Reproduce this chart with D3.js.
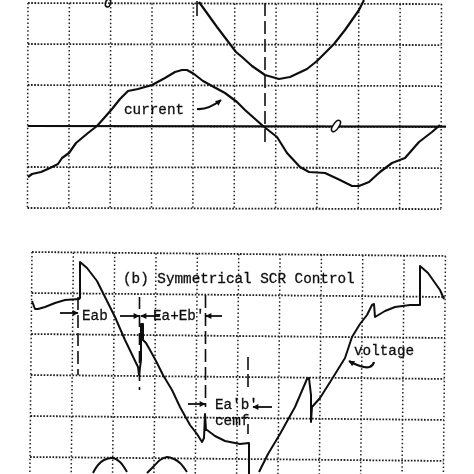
<!DOCTYPE html>
<html><head><meta charset="utf-8">
<script src="https://cdn.jsdelivr.net/npm/d3@7"></script>
<style>html,body{margin:0;padding:0;background:#fff}svg{display:block}
text{font-family:"Liberation Mono",monospace;font-size:14.3px;fill:#111;stroke:#111;stroke-width:.3}</style>
</head><body><svg id="c" width="474" height="474"></svg>
<script>
// Values in scope units: 41.4 x-units and 41 y-units per grid division
const currentX=[0,4,13,22,30,34,41,48,60,69,77,84,92,100,110,124,137,147,154,159,166,175,184,197,209,217,235,249,259,272,281,297,312,324,331,341,352,364,377,391,404,412];
const currentY=[-51,-48,-46,-42,-38,-32,-27,-17,-7,0,9,17,27,35,37,41,48,54,56,56,52,45,40,33,24,16,0,-11,-27,-41,-46,-47,-54,-60,-60,-56,-46,-37,-32,-16,-6,1];
const upperX=[171,189,208,214,224,237,251,262,279,289,306,317,331,336];
const upperY=[124,99,74,69,60,51,47,49,57,65,82,96,116,126];
const voltX1=[0,3,6,13,23,33,47,48,48,55,65,73,83,93,106,107,109,109,111,111,114,118,124,131,140,148,158,165,170,172,173,174,175,183,193,208,217,217];
const voltY1=[74,66,66,68,72,75,76,77,113,107,94,78,58,35,8,0,15,51,51,35,32,25,14,0,-15,-32,-50,-59,-67,-63,-39,-55,-55,-61,-66,-69,-68,-99];
const voltX2=[227,236,248,263,275,277,279,279,280,288,300,313,320,328,335,340,342,343,353,363,378,388,388,396,408,412];
const voltY2=[-97,-79,-59,-32,-4,-3,-20,-47,-32,-23,-4,17,38,51,60,70,71,58,64,68,70,70,109,102,85,76];
const hump1X=[61,66,72,81,88,95];
const hump1Y=[-98,-90,-85,-83,-87,-97];
const hump2X=[115,122,128,135,142,148,155];
const hump2Y=[-98,-91,-85,-82,-84,-88,-97];
const divisionsX=[0,1,2,3,4,5,6,7,8,9,10];
const divisionsA=[-2,-1,0,1,2,3];
const divisionsB=[-2,-1,0,1,2,3];
const labelsA=["current"];
const labelsB=["(b) Symmetrical SCR Control","Eab","Ea+Eb'","Ea'b'","cemf","voltage"];

const svg=d3.select("#c");
const xA=d3.scaleLinear().domain([0,414]).range([28,442]);
const yA=d3.scaleLinear().domain([0,123]).range([126,3]);
const xB=d3.scaleLinear().domain([0,413]).range([32,445]);
const yB=d3.scaleLinear().domain([0,123]).range([375,252]);
const defs=svg.append("defs");
defs.append("filter").attr("id","scan").attr("x","-5%").attr("y","-5%").attr("width","110%").attr("height","110%")
  .append("feGaussianBlur").attr("stdDeviation",.35);
defs.append("marker").attr("id","ah").attr("viewBox","0 0 10 10").attr("refX",9).attr("refY",5)
  .attr("markerWidth",7).attr("markerHeight",6).attr("markerUnits","userSpaceOnUse").attr("orient","auto")
  .append("path").attr("d","M0,0L10,5L0,10Z").attr("fill","#111");
const root=svg.append("g").attr("filter","url(#scan)");

function grid(x,y,rows,bottom,rot,ox,oy){
  const g=root.append("g").attr("transform",`rotate(${rot} ${ox} ${oy})`).attr("stroke","#222").attr("fill","none");
  const top=d3.min(rows,d=>y(d*41));
  g.selectAll(".v").data(divisionsX).join("line").attr("x1",d=>x(d*41.35)).attr("x2",d=>x(d*41.35))
    .attr("y1",top).attr("y2",bottom).attr("stroke-width",1.5).attr("stroke-dasharray","1.5 2.4");
  g.selectAll(".h").data(rows).join("line").attr("x1",x(0)).attr("x2",x(413.5)).attr("y1",d=>y(d*41)).attr("y2",d=>y(d*41))
    .attr("stroke-width",1.8).attr("stroke-dasharray","1.7 1.5");
}
grid(xA,yA,divisionsA,208,.15,28,3);
grid(xB,yB,divisionsB,474,.55,32,252);

function trace(x,y,X,Y,w){
  const line=d3.line().x(i=>x(X[i])).y(i=>y(Y[i]));
  root.append("path").attr("d",line(d3.range(X.length))).attr("fill","none").attr("stroke","#111")
    .attr("stroke-width",w||2).attr("stroke-linejoin","round");
}
trace(xA,yA,currentX,currentY,2.2);
trace(xA,yA,upperX,upperY,2.2);
trace(xB,yB,voltX1,voltY1,2);
trace(xB,yB,voltX2,voltY2,2);
const smooth=d3.line().x(d=>xB(d[0])).y(d=>yB(d[1])).curve(d3.curveCatmullRom);
root.append("path").attr("d",smooth(d3.zip(hump1X,hump1Y))).attr("fill","none").attr("stroke","#111").attr("stroke-width",2);
root.append("path").attr("d",smooth(d3.zip(hump2X,hump2Y))).attr("fill","none").attr("stroke","#111").attr("stroke-width",2);

// zero line of the upper panel
root.append("line").attr("x1",xA(0)).attr("x2",xA(418)).attr("y1",yA(0)).attr("y2",yA(-.7)).attr("stroke","#111").attr("stroke-width",2.2);

function vdash(x1,y1,y2,dash,w){
  root.append("line").attr("x1",x1).attr("x2",x1).attr("y1",y1).attr("y2",y2).attr("stroke","#111")
    .attr("stroke-width",w||1.6).attr("stroke-dasharray",dash||null);
}
vdash(xA(237),yA(123),yA(-19),"13 5");
vdash(xA(169),yA(125),yA(110));
vdash(xB(46),yB(78),yB(0),"13 5");
vdash(xB(107.5),yB(78),yB(-15),"12 6");
vdash(xB(173.5),yB(80),yB(-32),"13 5");
vdash(xB(216),yB(18),yB(-16),"13 4");
vdash(xB(216),yB(-49),yB(-59));

function arrow(x1,y1,x2,y2,w){
  root.append("line").attr("x1",x1).attr("y1",y1).attr("x2",x2).attr("y2",y2).attr("stroke","#111")
    .attr("stroke-width",w||1.8).attr("marker-end","url(#ah)");
}
arrow(xB(28),yB(62),xB(46),yB(62));
arrow(xB(88),yB(59),xB(107),yB(59));
arrow(xB(128),yB(59),xB(109),yB(59));
arrow(xB(190),yB(59),xB(174),yB(59));
arrow(xB(156),yB(-29),xB(173),yB(-29));
arrow(xB(240),yB(-32),xB(221),yB(-32));
root.append("path").attr("d",`M${xA(169)},${yA(17)}Q${xA(180)},${yA(16)} ${xA(193)},${yA(26)}`)
  .attr("fill","none").attr("stroke","#111").attr("stroke-width",2.2).attr("marker-end","url(#ah)");
root.append("path").attr("d",`M${xB(342)},${yB(13)}Q${xB(340)},${yB(5)} ${xB(328)},${yB(9)}Q${xB(322)},${yB(11)} ${xB(317)},${yB(14)}`)
  .attr("fill","none").attr("stroke","#111").attr("stroke-width",2.2).attr("marker-end","url(#ah)");

// handwritten phase marks
root.append("ellipse").attr("cx",xA(80)).attr("cy",yA(123)).attr("rx",2.5).attr("ry",4)
  .attr("transform",`rotate(15 ${xA(80)} ${yA(123)})`).attr("fill","none").attr("stroke","#111").attr("stroke-width",1.6);
root.append("ellipse").attr("cx",xA(308)).attr("cy",yA(0)).attr("rx",2.8).attr("ry",6.5)
  .attr("transform",`rotate(35 ${xA(308)} ${yA(0)})`).attr("fill","#fff").attr("stroke","#111").attr("stroke-width",1.6);

const label=(t,x,y)=>root.append("text").attr("x",x).attr("y",y).text(t);
label(labelsA[0],xA(96),yA(12));
label(labelsB[0],xB(91),yB(92));
label(labelsB[1],xB(50),yB(55));
label(labelsB[2],xB(121),yB(55));
label(labelsB[3],xB(183),yB(-34));
label(labelsB[4],xB(183),yB(-50));
label(labelsB[5],xB(322),yB(20));
</script></body></html>
